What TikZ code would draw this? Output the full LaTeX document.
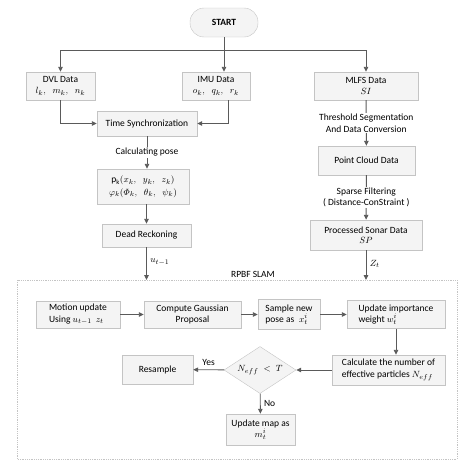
\documentclass[tikz,border=0pt]{standalone}
\usepackage{amsmath}
\usepackage{fontspec}
\setmainfont{Carlito}
\usetikzlibrary{shapes.geometric,arrows.meta}
\definecolor{boxfill}{HTML}{F4F4F4}
\definecolor{boxline}{HTML}{C4C4C4}
\definecolor{arrgray}{HTML}{5A5A5A}

\begin{document}
\begin{tikzpicture}[x=1pt,y=-1pt,
	font=\fontsize{9.5}{11.5}\selectfont,
	box/.style={draw=boxline,fill=boxfill,align=center,inner sep=2pt},
	arr/.style={draw=arrgray,line width=0.9pt,-{Triangle[length=5pt,width=4.5pt]}},
	lbl/.style={fill=white,inner sep=1pt,align=center}]
	\useasboundingbox (0,0) rectangle (474,474);
	% sensors
	\node[box,rounded corners=14pt,minimum width=68pt,minimum height=29pt,font=\fontsize{9.5}{11.5}\selectfont\bfseries] (start) at (224,22.5) {START};
	\coordinate (split) at (224,50);
	\node[box,minimum width=69pt,minimum height=28pt] (dvl) at (60.5,86) {DVL Data\\[-1pt]$l_k,\;\; m_k,\;\; n_k$};
	\node[box,minimum width=68pt,minimum height=28pt] (imu) at (216,86) {IMU Data\\[-1pt]$o_k,\;\; q_k,\;\; r_k$};
	\node[box,minimum width=104pt,minimum height=28pt] (mlfs) at (366,86) {MLFS Data\\[-1pt]$SI$};
	% left branch
	\node[box,minimum width=100pt,minimum height=25pt] (tsync) at (147,123.5) {Time Synchronization};
	\node[box,minimum width=92pt,minimum height=35pt] (pose) at (143,186.5) {$\mathrm{p}_{\mathrm{k}}(x_k,\;\; y_k,\;\; z_k)$\\[1pt]$\varphi_k(\varPhi_k,\;\; \theta_k,\;\; \psi_k)$};
	\node[box,minimum width=89pt,minimum height=23pt] (dead) at (146.5,235.5) {Dead Reckoning};
	% right branch
	\node[box,minimum width=97pt,minimum height=29pt] (pcd) at (366.5,160.5) {Point Cloud Data};
	\node[box,minimum width=112pt,minimum height=30pt] (sonar) at (366,235) {Processed Sonar Data\\[-1pt]$SP$};
	% RPBF SLAM frame
	\draw[boxline,densely dotted,line width=0.8pt] (17,280) rectangle (457,459);
	\node (slam) at (253,274.5) {RPBF SLAM};
	\coordinate (uin) at (dead |- 0,280);
	\coordinate (zin) at (sonar |- 0,280);
	\node[box,align=left,minimum width=84pt,minimum height=27pt] (motion) at (78,314.5) {Motion update\\Using $u_{t-1}\;\, z_t$};
	\node[box,minimum width=97pt,minimum height=27pt] (gauss) at (192.5,314.5) {Compute Gaussian\\Proposal};
	\node[box,align=left,minimum width=62pt,minimum height=30pt] (sample) at (289,314.5) {Sample new\\pose as\; $x_t^i$};
	\node[box,align=left,minimum width=98pt,minimum height=28pt] (weight) at (396,314.5) {Update importance\\weight $w_t^i$};
	\node[box,align=left,minimum width=113pt,minimum height=30pt] (calc) at (388.5,370) {Calculate the number of\\effective particles $N_{eff}$};
	\node[box,diamond,aspect=1.55,inner sep=0pt,minimum width=72pt,minimum height=47pt] (decide) at (260,370) {$N_{eff}\;<\;T$};
	\node[box,minimum width=71pt,minimum height=29pt] (resample) at (157.5,369.5) {Resample};
	\node[box,minimum width=69pt,minimum height=31pt] (map) at (260.5,429.5) {Update map as\\$m_t^i$};
	% connectors
	\draw[arr] (start) -- (start |- imu.north);
	\draw[arr] (split) -| (dvl);
	\draw[arr] (split) -| (mlfs);
	\draw[arr] (dvl) |- (tsync);
	\draw[arr] ([xshift=12pt]imu.south) |- (tsync);
	\draw[arr] (tsync.south) -- node[lbl]{Calculating pose} (tsync.south |- pose.north);
	\draw[arr] (dead.north |- pose.south) -- (dead.north);
	\draw[arr] (dead) -- node[right,pos=0.45]{$u_{t-1}$} (uin);
	\draw[arr] (mlfs) -- node[lbl]{Threshold Segmentation\\And Data Conversion} (pcd);
	\draw[arr] (pcd) -- node[lbl]{Sparse Filtering\\( Distance-ConStraint )} (sonar);
	\draw[arr] (sonar) -- node[right,pos=0.45]{$Z_t$} (zin);
	\draw[arr] (motion) -- (gauss);
	\draw[arr] (gauss) -- (sample);
	\draw[arr] (sample) -- (weight);
	\draw[arr] (weight.south) -- (weight.south |- calc.north);
	\draw[arr] (calc) -- (decide);
	\draw[arr] (decide) -- node[above]{Yes} (resample);
	\draw[arr] (decide) -- node[right]{No} (map);
\end{tikzpicture}
\end{document}
